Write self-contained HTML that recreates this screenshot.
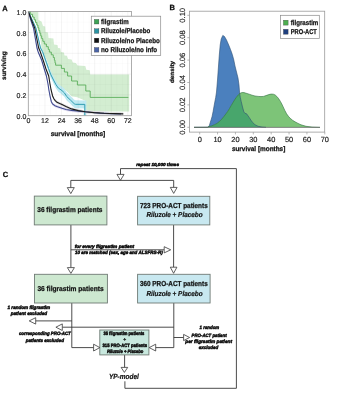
<!DOCTYPE html>
<html><head><meta charset="utf-8"><title>Figure</title>
<style>
html,body{margin:0;padding:0;background:#fff;}
svg{display:block;}
text{font-family:'Liberation Sans', Arial, sans-serif;fill:#111;text-rendering:geometricPrecision;}
.b{font-weight:bold;stroke:#111;stroke-width:0.25px;}
.bi{font-weight:bold;font-style:italic;stroke:#111;stroke-width:0.2px;}
.s{stroke-width:0.5px;}
.n{fill:#1e1e1e;stroke:#1e1e1e;stroke-width:0.18px;}
</style></head><body>
<svg width="337" height="400" viewBox="0 0 337 400">
<rect width="337" height="400" fill="#fff"/>
<text x="2.2" y="10.6" class="b" font-size="7.5">A</text>
<polygon points="28.4,11.6 38.3,11.6 38.5,20 41.5,21.5 43,26 45.2,26.5 45.5,32 48,32.5 48.5,38 53.4,38.5 54,44.5 57.5,45 58,48 60.3,48.3 60.9,51.9 63.9,52.5 64.5,55.4 66.9,55.8 68,59 71.6,59.5 72.8,62.6 75.8,63 77.6,65.5 85.3,66 86.3,69.7 89.8,70.3 90.2,74.5 129.2,74.5 129.2,111.5 85.5,111.5 84.8,100.6 77.2,97.3 71.5,96.3 67.7,92.2 64,89 60,86 56.3,83.2 54,79 51.4,74.2 49,67 46.5,59.6 44,55 41.8,50 40.5,40 39,33 36.6,25 33.5,19 31,14 28.4,11.6" fill="#d3edd1"/>
<polygon points="28.4,11.6 32.3,19.22 35.9,26.86 40.5,45.96 42.5,49.3 45.5,57.42 46.5,60.1 48.5,65.54 50.6,70.98 53.5,76.52 55.9,80.82 58.3,84.16 62,86.64 64.5,89 66.7,92.5 70.5,96.1 74.3,99.8 75.5,100.3 84.8,100.4 86.4,100.5 86.4,115.7 83.4,115.7 84.8,108.4 75.5,108.3 74.3,107.8 70.5,104.1 66.7,100.5 64.5,97 62,94.55 58.3,91.84 55.9,88.18 53.5,83.48 50.6,77.42 48.5,71.46 46.5,65.5 45.5,62.58 42.5,53.7 40.5,50.04 35.9,29.14 32.3,20.78 28.4,12" fill="#bfeaf2"/><polygon points="28.4,11.6 30.8,19.57 33.5,27.45 37,47.15 38.2,51.09 41.6,58.97 44,66.85 46.4,74.73 48,82.61 48.9,88.52 50.2,95.5 51.3,100 52.5,102.5 55,104.3 57.5,105.3 62,106.8 66,108 71.5,108.9 81,109.9 90,110.8 100,111.6 110,112.1 121,112.5 121,115.5 110,115.1 100,114.6 90,113.8 81,112.9 71.5,111.9 66,111 62,109.8 57.5,108.3 55,107.3 52.5,105.5 51.3,103 50.2,98.5 48.9,91.48 48,85.39 46.4,77.27 44,69.15 41.6,61.03 38.2,52.91 37,48.85 33.5,28.55 30.8,20.43 28.4,11.9" fill="#e4e0f3"/><polygon points="28.4,11.6 31.5,19.57 34.7,27.45 38.7,47.15 40,50.11 43.1,58.97 46,67.84 48.7,74.73 50,82.61 51.1,88.52 52.6,94.5 54,97.5 55,98.9 57,100.8 59.7,102.1 62,103 66,105 71.5,107.4 78.4,109.1 85.3,110.2 94,111.1 104,111.7 115,112.1 123.3,112.4 123.3,115.4 115,115.1 104,114.7 94,114.1 85.3,113.2 78.4,112.1 71.5,110.4 66,108 62,106 59.7,105.1 57,103.8 55,101.9 54,100.5 52.6,97.5 51.1,91.48 50,85.39 48.7,77.27 46,70.16 43.1,61.03 40,51.89 38.7,48.85 34.7,28.55 31.5,20.43 28.4,11.9" fill="#e2e2e2"/>
<path d="M33.92 11.5V115.7 M39.45 11.5V115.7 M50.5 11.5V115.7 M56.02 11.5V115.7 M67.07 11.5V115.7 M72.59 11.5V115.7 M83.64 11.5V115.7 M89.16 11.5V115.7 M100.21 11.5V115.7 M105.74 11.5V115.7 M116.78 11.5V115.7 M122.31 11.5V115.7 M28.3 105.3H131.5 M28.3 84.5H131.5 M28.3 63.7H131.5 M28.3 42.9H131.5 M28.3 22.1H131.5" stroke="rgba(0,0,0,0.03)" stroke-width="0.6" fill="none"/>
<path d="M44.97 11.5V115.7 M61.54 11.5V115.7 M78.12 11.5V115.7 M94.69 11.5V115.7 M111.26 11.5V115.7 M127.83 11.5V115.7 M28.3 94.9H131.5 M28.3 74.1H131.5 M28.3 53.3H131.5 M28.3 32.5H131.5" stroke="rgba(0,0,0,0.07)" stroke-width="0.7" fill="none"/>
<polyline points="28.4,11.6 30.25,11.6 30.25,14.3 32.54,14.3 32.54,17 34.17,17 34.17,19.7 35.52,19.7 35.52,22.4 36.88,22.4 36.88,25.1 37.98,25.1 37.98,27.8 38.89,27.8 38.89,30.5 39.81,30.5 39.81,33.2 40.74,33.2 40.74,35.9 41.69,35.9 41.69,38.6 42.82,38.6 42.82,41.3 44.31,41.3 44.31,44 46.38,44 46.38,46.7 48.27,46.7 48.27,49.4 49.36,49.4 49.36,52.1 51.34,52.1 51.34,54.8 53.28,54.8 53.28,57.5 54.39,57.5 54.39,60.2 55.01,60.2 55.01,62.9 55.6,62.9 55.6,65.2 61.4,65.2 61.4,68.4 64.4,68.4 64.4,72 67.6,72 67.6,76 71.6,76 71.6,81 77.4,81 77.4,85 85.8,85 85.8,91 90.2,91 90.2,97.4 128.4,97.4" fill="none" stroke="#5aae5a" stroke-width="0.9"/>
<polyline points="28.4,11.6 32.3,20 35.9,28 40.5,48 42.5,51.5 45.5,60 46.5,62.8 48.5,68.5 50.6,74.2 53.5,80 55.9,84.5 58.3,88 62,90.6 64.5,93 66.7,96.5 70.5,100.1 74.3,103.8 75.5,104.3 84.8,104.4 84.8,115.4" fill="none" stroke="#2f9db0" stroke-width="1"/>
<polyline points="28.4,11.6 30.8,20 33.5,28 37,48 38.2,52 41.6,60 44,68 46.4,76 48,84 48.9,90 50.2,97 51.3,101.5 52.5,104 55,105.8 57.5,106.8 62,108.3 66,109.5 71.5,110.4 81,111.4 90,112.3 100,113.1 110,113.6 121,114" fill="none" stroke="#3f4a8e" stroke-width="1.1"/>
<polyline points="28.4,11.6 31.5,20 34.7,28 38.7,48 40,51 43.1,60 46,69 48.7,76 50,84 51.1,90 52.6,96 54,99 55,100.4 57,102.3 59.7,103.6 62,104.5 66,106.5 71.5,108.9 78.4,110.6 85.3,111.7 94,112.6 104,113.2 115,113.6 123.3,113.9" fill="none" stroke="#1b1b1b" stroke-width="1.1"/>
<rect x="28.3" y="11.5" width="103.2" height="104.2" fill="none" stroke="#9a9a9a" stroke-width="0.8"/>
<text x="26.3" y="118.7" class="n" text-anchor="end" font-size="7">0.0</text>
<text x="26.3" y="97.9" class="n" text-anchor="end" font-size="7">0.2</text>
<text x="26.3" y="77.1" class="n" text-anchor="end" font-size="7">0.4</text>
<text x="26.3" y="56.3" class="n" text-anchor="end" font-size="7">0.6</text>
<text x="26.3" y="35.5" class="n" text-anchor="end" font-size="7">0.8</text>
<text x="26.3" y="14.7" class="n" text-anchor="end" font-size="7">1.0</text>
<text x="28.4" y="123.1" class="n" text-anchor="middle" font-size="7">0</text>
<text x="44.97" y="123.1" class="n" text-anchor="middle" font-size="7">12</text>
<text x="61.54" y="123.1" class="n" text-anchor="middle" font-size="7">24</text>
<text x="78.12" y="123.1" class="n" text-anchor="middle" font-size="7">36</text>
<text x="94.69" y="123.1" class="n" text-anchor="middle" font-size="7">48</text>
<text x="111.26" y="123.1" class="n" text-anchor="middle" font-size="7">60</text>
<text x="127.83" y="123.1" class="n" text-anchor="middle" font-size="7">72</text>
<text transform="translate(6.3 65.6) rotate(-90)" text-anchor="middle" class="b" font-size="6.3" textLength="28.7" lengthAdjust="spacingAndGlyphs">surviving</text>
<text x="78" y="136.2" text-anchor="middle" class="b" font-size="6.8" textLength="54.6" lengthAdjust="spacingAndGlyphs">survival [months]</text>
<rect x="91.3" y="16.2" width="69.4" height="39.2" fill="#fff" stroke="#8a8a8a" stroke-width="0.7"/>
<rect x="94.3" y="19.4" width="4.6" height="4.6" fill="#3da356" stroke="#333" stroke-width="0.3"/>
<text x="101" y="23.9" class="b" font-size="7" textLength="27.6" lengthAdjust="spacingAndGlyphs">filgrastim</text>
<rect x="94.3" y="28.77" width="4.6" height="4.6" fill="#2a93a3" stroke="#333" stroke-width="0.3"/>
<text x="101" y="33.27" class="b" font-size="7" textLength="49.2" lengthAdjust="spacingAndGlyphs">Riluzole/Placebo</text>
<rect x="94.3" y="38.14" width="4.6" height="4.6" fill="#111" stroke="#333" stroke-width="0.3"/>
<text x="101" y="42.64" class="b" font-size="7" textLength="58.8" lengthAdjust="spacingAndGlyphs">Riluzole/no Placebo</text>
<rect x="94.3" y="47.51" width="4.6" height="4.6" fill="#4b64a8" stroke="#333" stroke-width="0.3"/>
<text x="101" y="52.01" class="b" font-size="7" textLength="56.2" lengthAdjust="spacingAndGlyphs">no Riluzole/no info</text>
<text x="169.4" y="9.7" class="b" font-size="7.5">B</text>
<defs><clipPath id="cb"><polygon points="194,127.3 207.4,127.2 209.1,126.4 210.3,122.3 211.2,119.5 212.1,116.4 213.1,111.5 213.9,106.9 214.8,102 215.7,97.4 216.5,92 217.5,80 218.5,66 219.3,55 220.2,45 221.2,39 222.8,35.4 224.5,36.5 226.5,40 228.7,45 230.5,49.5 232.3,54.5 233.8,60 235,66 236.5,72 238,78 239,85 239.6,93 240.3,97.5 241.2,101.4 242.5,107 243.9,112 245,113.3 246.6,113.8 249.2,117.4 251,120.3 252.8,122.7 255,124.7 258.1,126.3 262,127 266,127.3"/></clipPath></defs>
<polygon points="194,127.3 207.4,127.2 209.1,126.4 210.3,122.3 211.2,119.5 212.1,116.4 213.1,111.5 213.9,106.9 214.8,102 215.7,97.4 216.5,92 217.5,80 218.5,66 219.3,55 220.2,45 221.2,39 222.8,35.4 224.5,36.5 226.5,40 228.7,45 230.5,49.5 232.3,54.5 233.8,60 235,66 236.5,72 238,78 239,85 239.6,93 240.3,97.5 241.2,101.4 242.5,107 243.9,112 245,113.3 246.6,113.8 249.2,117.4 251,120.3 252.8,122.7 255,124.7 258.1,126.3 262,127 266,127.3" fill="#4b80be"/>
<polygon points="194,127.3 207.4,127.3 208.6,126.6 211.5,125.9 214.5,124.7 217,123.4 219.2,121.7 221.7,119.2 224,116.4 225.8,114 227.6,111.6 229.4,108.7 231.1,105.7 233,102.5 234.7,99.7 236.4,97.3 238.2,95 240,93.3 242.1,92.5 244,92.6 246,93.2 249.2,94.2 252,95.2 255,96 258.1,96.4 261,96.6 263.5,96.4 266,95.6 268.8,94.6 271,94.1 273.3,94.2 275.2,95 276.8,96.4 278.6,98.6 280.4,101.4 281.8,104 283.1,106.7 284.8,110.4 286.6,113.8 288.4,116.3 290.2,118.3 292.5,120.2 295,121.8 298,123.4 301,124.8 306,126.3 312,127 320,127.3" fill="#7dc478"/>
<polygon points="194,127.3 207.4,127.3 208.6,126.6 211.5,125.9 214.5,124.7 217,123.4 219.2,121.7 221.7,119.2 224,116.4 225.8,114 227.6,111.6 229.4,108.7 231.1,105.7 233,102.5 234.7,99.7 236.4,97.3 238.2,95 240,93.3 242.1,92.5 244,92.6 246,93.2 249.2,94.2 252,95.2 255,96 258.1,96.4 261,96.6 263.5,96.4 266,95.6 268.8,94.6 271,94.1 273.3,94.2 275.2,95 276.8,96.4 278.6,98.6 280.4,101.4 281.8,104 283.1,106.7 284.8,110.4 286.6,113.8 288.4,116.3 290.2,118.3 292.5,120.2 295,121.8 298,123.4 301,124.8 306,126.3 312,127 320,127.3" fill="#48a66c" clip-path="url(#cb)"/>
<polyline points="194,127.3 207.4,127.2 209.1,126.4 210.3,122.3 211.2,119.5 212.1,116.4 213.1,111.5 213.9,106.9 214.8,102 215.7,97.4 216.5,92 217.5,80 218.5,66 219.3,55 220.2,45 221.2,39 222.8,35.4 224.5,36.5 226.5,40 228.7,45 230.5,49.5 232.3,54.5 233.8,60 235,66 236.5,72 238,78 239,85 239.6,93 240.3,97.5 241.2,101.4 242.5,107 243.9,112 245,113.3 246.6,113.8 249.2,117.4 251,120.3 252.8,122.7 255,124.7 258.1,126.3 262,127 266,127.3" fill="none" stroke="#2d4f73" stroke-width="0.6"/>
<polyline points="194,127.3 207.4,127.3 208.6,126.6 211.5,125.9 214.5,124.7 217,123.4 219.2,121.7 221.7,119.2 224,116.4 225.8,114 227.6,111.6 229.4,108.7 231.1,105.7 233,102.5 234.7,99.7 236.4,97.3 238.2,95 240,93.3 242.1,92.5 244,92.6 246,93.2 249.2,94.2 252,95.2 255,96 258.1,96.4 261,96.6 263.5,96.4 266,95.6 268.8,94.6 271,94.1 273.3,94.2 275.2,95 276.8,96.4 278.6,98.6 280.4,101.4 281.8,104 283.1,106.7 284.8,110.4 286.6,113.8 288.4,116.3 290.2,118.3 292.5,120.2 295,121.8 298,123.4 301,124.8 306,126.3 312,127 320,127.3" fill="none" stroke="#2f6f3e" stroke-width="0.6"/>
<path d="M194 127.4H320" stroke="#5a5a5a" stroke-width="0.7"/>
<rect x="189.5" y="11.2" width="135.2" height="120.9" fill="none" stroke="#9a9a9a" stroke-width="0.8"/>
<path d="M187.3 127.3H189.5 M187.3 104.9H189.5 M187.3 82.5H189.5 M187.3 60.1H189.5 M187.3 37.7H189.5 M187.3 15.3H189.5 M199.7 132.1V134.4 M217.57 132.1V134.4 M235.44 132.1V134.4 M253.31 132.1V134.4 M271.18 132.1V134.4 M289.05 132.1V134.4 M306.92 132.1V134.4 M324.79 132.1V134.4" stroke="#9a9a9a" stroke-width="0.7"/>
<text transform="translate(184.9 127.3) rotate(-90)" text-anchor="middle" class="n" font-size="7.6">0.00</text>
<text transform="translate(184.9 104.9) rotate(-90)" text-anchor="middle" class="n" font-size="7.6">0.02</text>
<text transform="translate(184.9 82.5) rotate(-90)" text-anchor="middle" class="n" font-size="7.6">0.04</text>
<text transform="translate(184.9 60.1) rotate(-90)" text-anchor="middle" class="n" font-size="7.6">0.06</text>
<text transform="translate(184.9 37.7) rotate(-90)" text-anchor="middle" class="n" font-size="7.6">0.08</text>
<text transform="translate(184.9 15.3) rotate(-90)" text-anchor="middle" class="n" font-size="7.6">0.10</text>
<text x="199.7" y="142.4" text-anchor="middle" class="n" font-size="7.4">0</text>
<text x="217.57" y="142.4" text-anchor="middle" class="n" font-size="7.4">10</text>
<text x="235.44" y="142.4" text-anchor="middle" class="n" font-size="7.4">20</text>
<text x="253.31" y="142.4" text-anchor="middle" class="n" font-size="7.4">30</text>
<text x="271.18" y="142.4" text-anchor="middle" class="n" font-size="7.4">40</text>
<text x="289.05" y="142.4" text-anchor="middle" class="n" font-size="7.4">50</text>
<text x="306.92" y="142.4" text-anchor="middle" class="n" font-size="7.4">60</text>
<text x="324.79" y="142.4" text-anchor="middle" class="n" font-size="7.4">70</text>
<text transform="translate(174.2 72) rotate(-90)" text-anchor="middle" class="b" font-size="5.9" textLength="22" lengthAdjust="spacingAndGlyphs">density</text>
<text x="258.6" y="151" text-anchor="middle" class="b" font-size="6.8" textLength="53.4" lengthAdjust="spacingAndGlyphs">survival [months]</text>
<rect x="280.4" y="15.3" width="38.9" height="23.2" fill="#fff" stroke="#8a8a8a" stroke-width="0.7"/>
<rect x="283.4" y="20.2" width="4.7" height="4.9" fill="#4cae4f" stroke="#333" stroke-width="0.3"/>
<rect x="283.4" y="29.3" width="4.7" height="4.9" fill="#1f3f7e" stroke="#333" stroke-width="0.3"/>
<text x="290.8" y="25.2" class="b" font-size="7" textLength="27.5" lengthAdjust="spacingAndGlyphs">filgrastim</text>
<text x="290.8" y="34.3" class="b" font-size="7" textLength="26" lengthAdjust="spacingAndGlyphs">PRO-ACT</text>
<text x="2.7" y="177.1" class="b" font-size="7.5">C</text>
<path d="M236.4 388.3V168.6H120.5V174.4 M70.8 180.4H173.7 M70.8 180.4V188 M173.7 180.4V187.4 M70.9 224.9V267.6 M70.9 249.8H164.2 M173.6 224.9V267.2 M71.8 303V347.6H93.6 M71.8 320.9H35.6 M173.8 303V347.6H155.7 M173.8 327.2H62.2 M173.8 337.5H183.6 M124.6 354.5V367.5 M124.9 381.3V388.3H236.4" fill="none" stroke="#383838" stroke-width="0.9"/>
<rect x="34.3" y="196.1" width="72.6" height="28.8" fill="#cde8d0" stroke="#6f7a74" stroke-width="0.9"/>
<rect x="137.6" y="196.3" width="72.2" height="28.6" fill="#c8e8f0" stroke="#6f7a74" stroke-width="0.9"/>
<rect x="34.5" y="274.3" width="72.9" height="28.7" fill="#cde8d0" stroke="#6f7a74" stroke-width="0.9"/>
<rect x="137.6" y="274.3" width="72.5" height="28.7" fill="#c8e8f0" stroke="#6f7a74" stroke-width="0.9"/>
<rect x="99.8" y="330" width="49.1" height="24.9" fill="#c8e8de" stroke="#6f7a74" stroke-width="0.9"/>
<polygon points="120.5,180.3 116.95,174.4 124.05,174.4" fill="#fff" stroke="#383838" stroke-width="0.8" stroke-linejoin="miter"/>
<polygon points="70.8,193.6 67.3,187.6 74.3,187.6" fill="#fff" stroke="#383838" stroke-width="0.8" stroke-linejoin="miter"/>
<polygon points="173.7,193.4 170.3,187.4 177.1,187.4" fill="#fff" stroke="#383838" stroke-width="0.8" stroke-linejoin="miter"/>
<polygon points="70.9,273.4 67.4,267.6 74.4,267.6" fill="#fff" stroke="#383838" stroke-width="0.8" stroke-linejoin="miter"/>
<polygon points="173.6,273.3 170.3,267.2 176.9,267.2" fill="#fff" stroke="#383838" stroke-width="0.8" stroke-linejoin="miter"/>
<polygon points="170.7,249.8 164.2,246.7 164.2,252.9" fill="#fff" stroke="#383838" stroke-width="0.8" stroke-linejoin="miter"/>
<polygon points="29.2,320.9 35.7,317.7 35.7,324.1" fill="#fff" stroke="#383838" stroke-width="0.8" stroke-linejoin="miter"/>
<polygon points="55.9,327.2 62.3,323.9 62.3,330.5" fill="#fff" stroke="#383838" stroke-width="0.8" stroke-linejoin="miter"/>
<polygon points="99.8,347.6 93.6,344.2 93.6,351" fill="#fff" stroke="#383838" stroke-width="0.8" stroke-linejoin="miter"/>
<polygon points="149.2,347.6 155.7,344.2 155.7,351" fill="#fff" stroke="#383838" stroke-width="0.8" stroke-linejoin="miter"/>
<polygon points="189.6,337.5 183.6,334.4 183.6,340.6" fill="#fff" stroke="#383838" stroke-width="0.8" stroke-linejoin="miter"/>
<polygon points="124.4,372.4 121.1,367.4 127.7,367.4" fill="#fff" stroke="#383838" stroke-width="0.8" stroke-linejoin="miter"/>
<text x="37.3" y="212.4" class="b" font-size="7.1" text-anchor="start" textLength="65.2" lengthAdjust="spacingAndGlyphs">36 filgrastim patients</text>
<text x="37.4" y="290.5" class="b" font-size="7.1" text-anchor="start" textLength="66.2" lengthAdjust="spacingAndGlyphs">36 filgrastim patients</text>
<text x="139.9" y="208" class="b" font-size="7.2" text-anchor="start" textLength="67.8" lengthAdjust="spacingAndGlyphs">723 PRO-ACT patients</text>
<text x="146.4" y="217" class="bi" font-size="7.2" text-anchor="start" textLength="56.2" lengthAdjust="spacingAndGlyphs">Riluzole + Placebo</text>
<text x="139.9" y="285.9" class="b" font-size="7.2" text-anchor="start" textLength="67.8" lengthAdjust="spacingAndGlyphs">360 PRO-ACT patients</text>
<text x="146.4" y="296.3" class="bi" font-size="7.2" text-anchor="start" textLength="56.2" lengthAdjust="spacingAndGlyphs">Riluzole + Placebo</text>
<text x="103.4" y="334.7" class="b s" font-size="4.9" text-anchor="start" textLength="40.9" lengthAdjust="spacingAndGlyphs">35 filgrastim patients</text>
<text x="124.7" y="340.9" class="b" font-size="5" text-anchor="middle">+</text>
<text x="102.5" y="347.2" class="b s" font-size="4.9" text-anchor="start" textLength="44.5" lengthAdjust="spacingAndGlyphs">315 PRO-ACT patients</text>
<text x="106.9" y="353.2" class="bi s" font-size="4.9" text-anchor="start" textLength="36.5" lengthAdjust="spacingAndGlyphs">Riluzole + Placebo</text>
<text x="108.9" y="378.9" class="bi" font-size="7.4" text-anchor="start" textLength="29.9" lengthAdjust="spacingAndGlyphs">YP-model</text>
<text x="136.2" y="166.3" class="bi s" font-size="4.4" text-anchor="start" textLength="42.8" lengthAdjust="spacingAndGlyphs">repeat 10,000 times</text>
<text x="74.7" y="248" class="bi s" font-size="4.6" text-anchor="start" textLength="59.5" lengthAdjust="spacingAndGlyphs">for every filgrastim patient</text>
<text x="74.9" y="254.3" class="bi s" font-size="4.6" text-anchor="start" textLength="87.8" lengthAdjust="spacingAndGlyphs">10 are matched (sex, age and ALSFRS-R)</text>
<text x="7.5" y="308.7" class="bi s" font-size="4.8" text-anchor="start" textLength="42.7" lengthAdjust="spacingAndGlyphs">1 random filgrastim</text>
<text x="10.7" y="315.2" class="bi s" font-size="4.8" text-anchor="start" textLength="36.5" lengthAdjust="spacingAndGlyphs">patient excluded</text>
<text x="18.9" y="335.1" class="bi s" font-size="4.8" text-anchor="start" textLength="51.9" lengthAdjust="spacingAndGlyphs">corresponding PRO-ACT</text>
<text x="25.8" y="341.5" class="bi s" font-size="4.8" text-anchor="start" textLength="38.1" lengthAdjust="spacingAndGlyphs">patients excluded</text>
<text x="199.6" y="329.4" class="bi s" font-size="4.8" text-anchor="start" textLength="19.6" lengthAdjust="spacingAndGlyphs">1 random</text>
<text x="191.6" y="336.6" class="bi s" font-size="4.8" text-anchor="start" textLength="35" lengthAdjust="spacingAndGlyphs">PRO-ACT patient</text>
<text x="185.3" y="343.3" class="bi s" font-size="4.8" text-anchor="start" textLength="46.7" lengthAdjust="spacingAndGlyphs">per filgrastim patient</text>
<text x="198.7" y="349.4" class="bi s" font-size="4.8" text-anchor="start" textLength="19.6" lengthAdjust="spacingAndGlyphs">excluded</text>
</svg>
</body></html>
